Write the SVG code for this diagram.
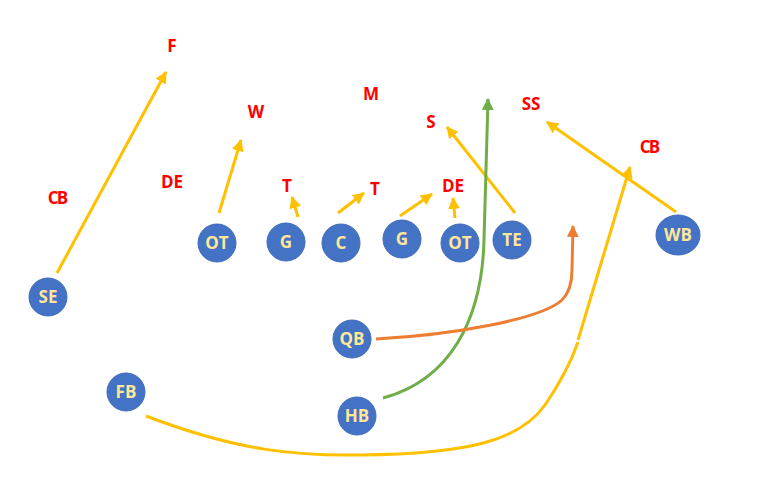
<svg xmlns="http://www.w3.org/2000/svg" width="768" height="503" viewBox="0 0 768 503">
<style>
.n{fill:#4472C4;stroke:#3F6BBA;stroke-width:1}
.nt{font-family:"Open Sans","Liberation Sans",sans-serif;font-weight:700;font-size:17px;fill:#FFE699;text-anchor:middle}
.d{font-family:"Open Sans","Liberation Sans",sans-serif;font-weight:700;font-size:17px;fill:#FF0000;text-anchor:middle}
.y{fill:none;stroke:#FFC000;stroke-width:3}
.g{fill:none;stroke:#70AD47;stroke-width:3}
.o{fill:none;stroke:#ED7D31;stroke-width:3}
</style>
<defs>
<marker id="ay" markerUnits="userSpaceOnUse" markerWidth="14" markerHeight="12" refX="11" refY="6" orient="auto"><path d="M0,0 L12,6 L0,12 z" fill="#FFC000"/></marker>
<marker id="ag" markerUnits="userSpaceOnUse" markerWidth="14" markerHeight="12" refX="11" refY="6" orient="auto"><path d="M0,0 L12,6 L0,12 z" fill="#70AD47"/></marker>
<marker id="ao" markerUnits="userSpaceOnUse" markerWidth="14" markerHeight="12" refX="11" refY="6" orient="auto"><path d="M0,0 L12,6 L0,12 z" fill="#ED7D31"/></marker>
</defs>
<rect width="768" height="503" fill="#FFFFFF"/>
<g id="defense">
<text class="d" x="172" y="52">F</text>
<text class="d" x="256" y="118">W</text>
<text class="d" x="371" y="100">M</text>
<text class="d" x="431" y="128">S</text>
<text class="d" x="531" y="110">SS</text>
<text class="d" x="649" y="153" letter-spacing="-2">CB</text>
<text class="d" x="57" y="204" letter-spacing="-2">CB</text>
<text class="d" x="172" y="188">DE</text>
<text class="d" x="287" y="192">T</text>
<text class="d" x="375" y="195">T</text>
<text class="d" x="453" y="192">DE</text>
</g>
<g id="connectors">
<line class="y" x1="57" y1="273" x2="166" y2="72" marker-end="url(#ay)"/>
<line class="y" x1="219" y1="213" x2="241" y2="140" marker-end="url(#ay)"/>
<line class="y" x1="298" y1="217" x2="292" y2="197" marker-end="url(#ay)"/>
<line class="y" x1="338" y1="213" x2="364" y2="193" marker-end="url(#ay)"/>
<line class="y" x1="400" y1="216" x2="432" y2="194" marker-end="url(#ay)"/>
<line class="y" x1="455" y1="218" x2="453" y2="198" marker-end="url(#ay)"/>
<line class="y" x1="515" y1="213" x2="447" y2="127" marker-end="url(#ay)"/>
<line class="y" x1="676" y1="212" x2="547" y2="122" marker-end="url(#ay)"/>
<path class="y" d="M146,416 C240,452 300,456 360,455 C470,454 520,440 545,405 C560,383 570,365 578,342"/>
<line class="y" x1="578" y1="340" x2="630" y2="167" marker-end="url(#ay)"/>
<path class="g" d="M383,398 C450,380 482,320 484,240 L488,99" marker-end="url(#ag)"/>
<path class="o" d="M376,339 C450,335 540,320 562,300 Q572,290 572,270 L573,226" marker-end="url(#ao)"/>
</g>
<g id="SE"><circle class="n" cx="48" cy="297" r="19"/><text class="nt" x="48" y="303">SE</text></g>
<g id="OT1"><circle class="n" cx="217" cy="243" r="19"/><text class="nt" x="217" y="249">OT</text></g>
<g id="G1"><circle class="n" cx="286" cy="242" r="19"/><text class="nt" x="286" y="248">G</text></g>
<g id="C"><circle class="n" cx="341" cy="243" r="19"/><text class="nt" x="341" y="249">C</text></g>
<g id="G2"><circle class="n" cx="402" cy="239" r="19"/><text class="nt" x="402" y="245">G</text></g>
<g id="OT2"><circle class="n" cx="460" cy="243" r="19"/><text class="nt" x="460" y="249">OT</text></g>
<g id="TE"><circle class="n" cx="512" cy="240" r="19"/><text class="nt" x="512" y="246">TE</text></g>
<g id="WB"><ellipse class="n" cx="678" cy="235" rx="22" ry="20"/><text class="nt" x="678" y="241">WB</text></g>
<g id="QB"><circle class="n" cx="352" cy="339" r="19"/><text class="nt" x="352" y="345">QB</text></g>
<g id="HB"><circle class="n" cx="357" cy="416" r="19"/><text class="nt" x="357" y="422">HB</text></g>
<g id="FB"><circle class="n" cx="126" cy="392" r="19"/><text class="nt" x="126" y="398">FB</text></g>
</svg>
